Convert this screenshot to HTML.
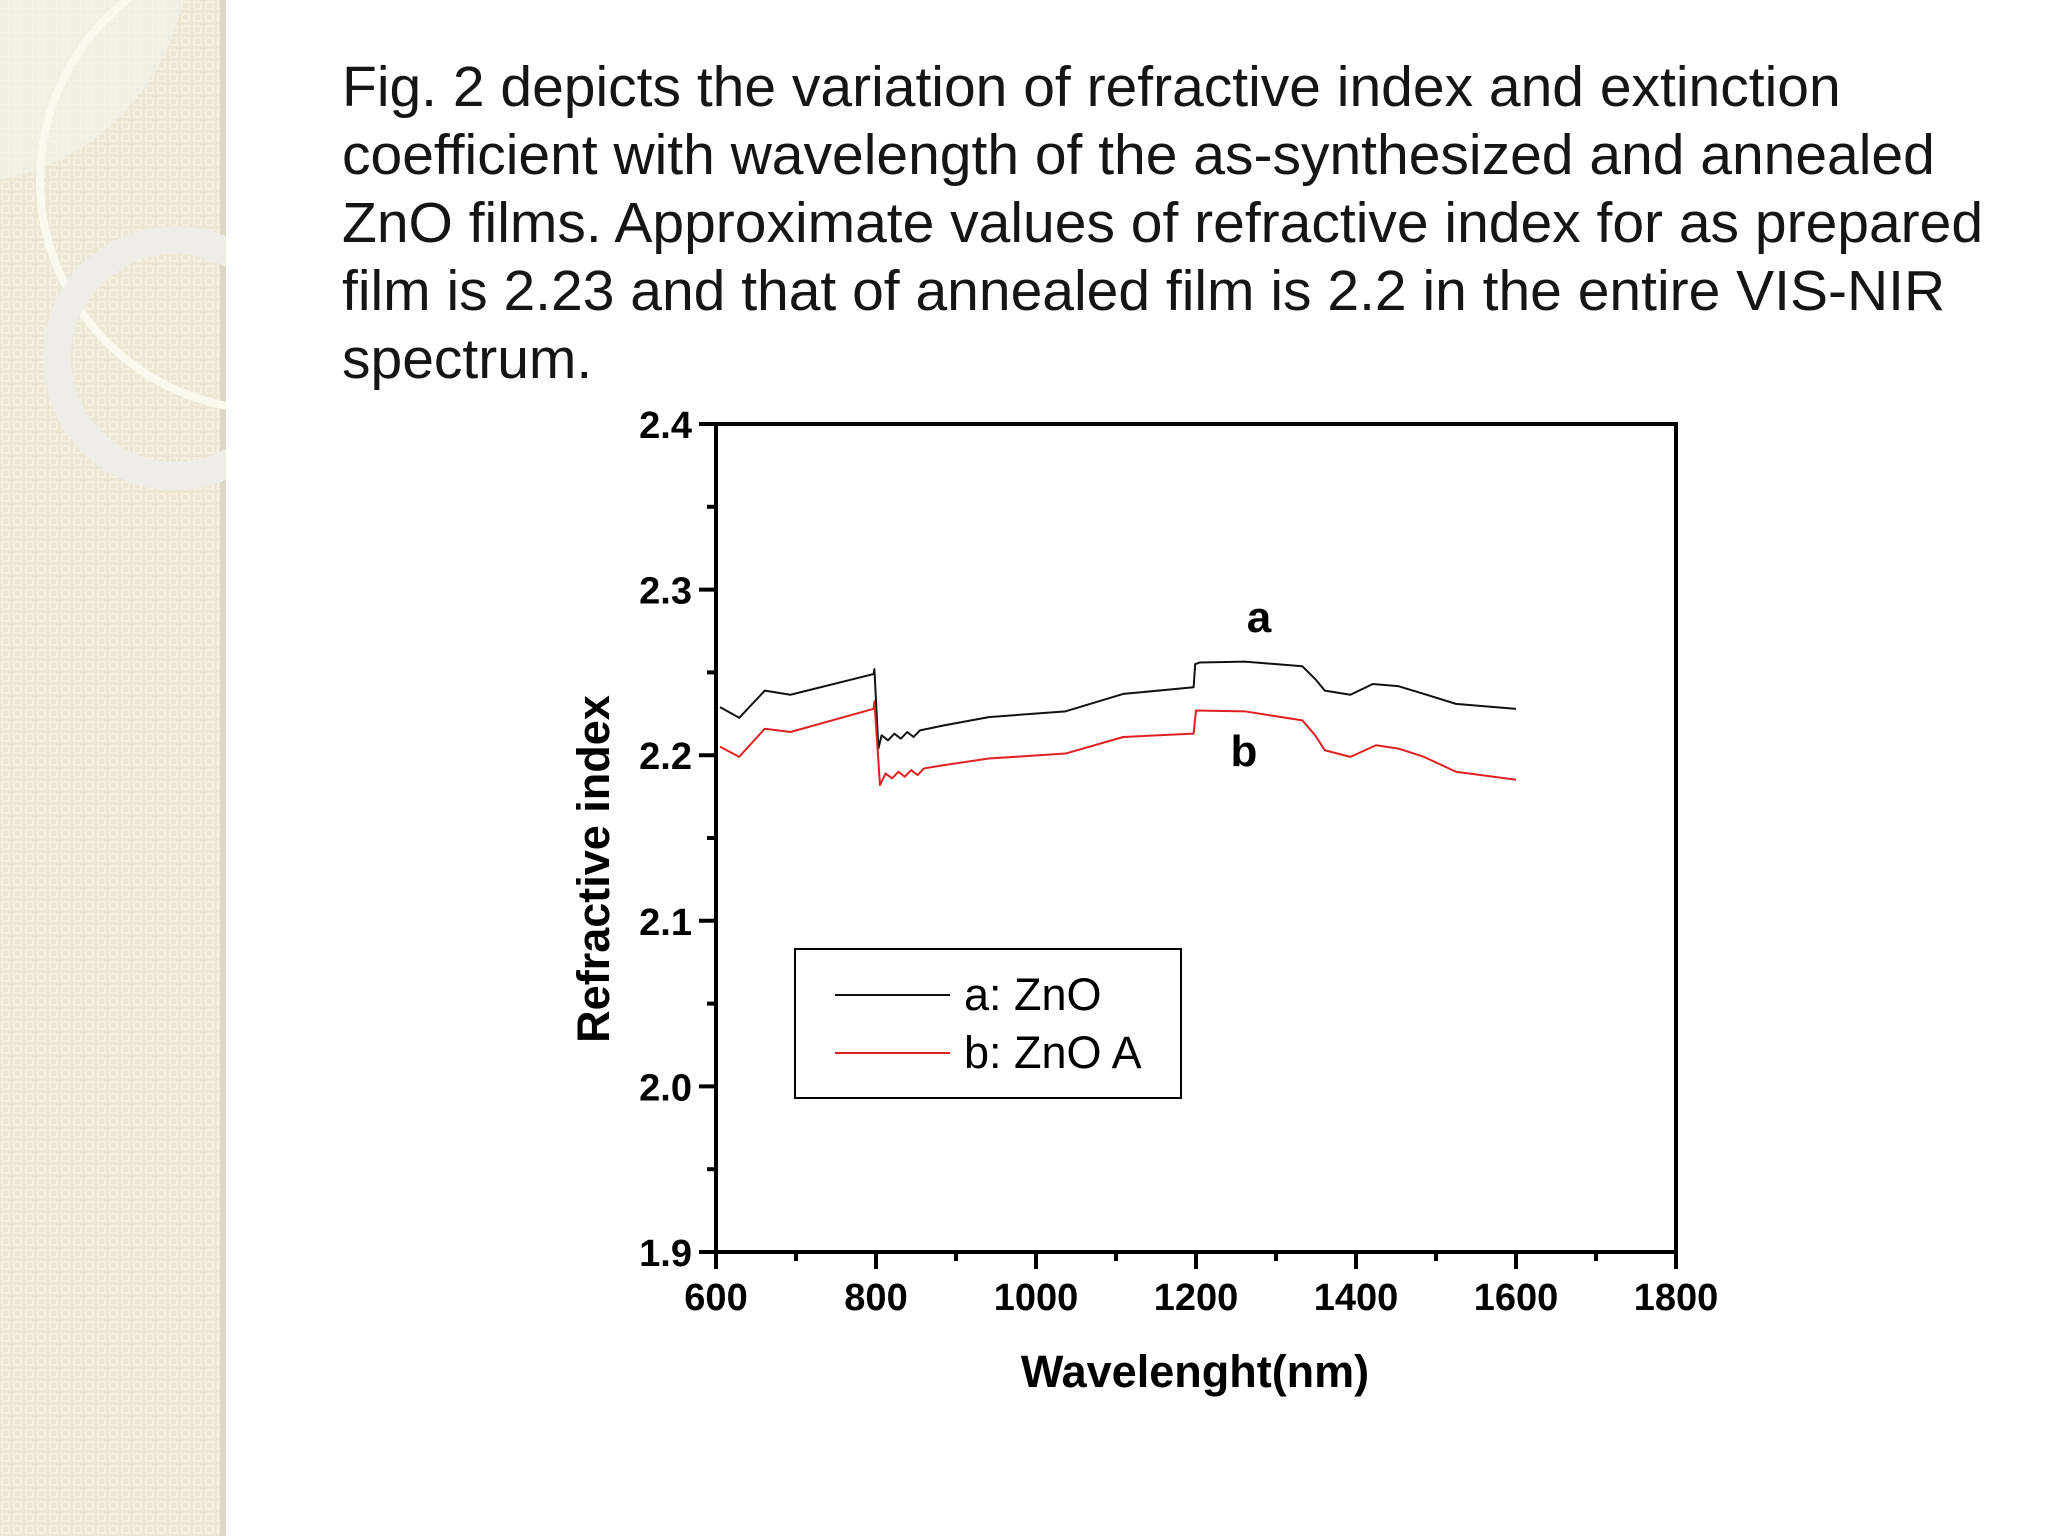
<!DOCTYPE html>
<html><head><meta charset="utf-8"><style>
html,body{margin:0;padding:0;width:2048px;height:1536px;overflow:hidden;background:#fff;font-family:"Liberation Sans",Arial,sans-serif}
#side{position:absolute;left:0;top:0;width:226px;height:1536px}
#txt{position:absolute;left:342px;top:53px;font-size:57px;line-height:68px;color:#151515;white-space:nowrap}
#chart{position:absolute;left:0;top:0}
</style></head><body>
<svg id="side" width="226" height="1536">
<defs><pattern id="pt" width="12" height="12" patternUnits="userSpaceOnUse"><rect width="12" height="12" fill="#ece6d3"/><rect x="2" y="2" width="7" height="7" fill="none" stroke="#f6f2e6" stroke-width="1.5"/></pattern></defs>
<rect width="226" height="1536" fill="url(#pt)"/>
<rect x="220" width="6" height="1536" fill="#dcd6c4"/>
<path d="M0 0 H183 A230 230 0 0 1 0 180 Z" fill="#f4f2e8" opacity="0.7"/>
<circle cx="270" cy="180" r="230" fill="none" stroke="#faf8ef" stroke-width="8"/>
<circle cx="175" cy="358" r="118" fill="none" stroke="#eeede8" stroke-width="28"/>
</svg>
<div id="txt">Fig. 2 depicts the variation of refractive index and extinction<br>coefficient with wavelength of the as-synthesized and annealed<br>ZnO films. Approximate values of refractive index for as prepared<br>film is 2.23 and that of annealed film is 2.2 in the entire VIS-NIR<br>spectrum.</div>
<svg id="chart" width="2048" height="1536"></svg>
<script>
const xTicks=[600,800,1000,1200,1400,1600,1800];
const yTicks=[1.9,2.0,2.1,2.2,2.3,2.4];
const yTickLabels=["1.9","2.0","2.1","2.2","2.3","2.4"];
const wlA=[605,629,661,693,797,798,803,807,815,823,831,839,847,855,885,941,1037,1109,1197,1199,1205,1261,1333,1349,1361,1393,1421,1453,1485,1525,1600];
const nA=[2.229,2.2226,2.239,2.2365,2.249,2.252,2.204,2.212,2.209,2.213,2.210,2.214,2.211,2.215,2.218,2.223,2.2265,2.237,2.241,2.255,2.256,2.2565,2.2537,2.246,2.239,2.2365,2.243,2.2417,2.237,2.231,2.228];
const wlB=[605,629,661,693,797,798,805,812,820,828,836,844,852,860,885,941,1037,1109,1197,1200,1261,1333,1349,1361,1393,1425,1453,1485,1525,1600];
const nB=[2.2052,2.199,2.216,2.214,2.228,2.2325,2.182,2.189,2.186,2.190,2.187,2.191,2.188,2.192,2.194,2.198,2.201,2.211,2.213,2.227,2.2265,2.221,2.212,2.203,2.199,2.206,2.204,2.199,2.190,2.1852];
const L=716,R=1676,T=424,B=1252;
const X=v=>L+(v-600)/1200*(R-L);
const Y=v=>B-(v-1.9)/0.5*(B-T);
const svg=document.getElementById('chart');
const NS='http://www.w3.org/2000/svg';
function mk(t,a){const e=document.createElementNS(NS,t);for(const k in a)e.setAttribute(k,a[k]);svg.appendChild(e);return e;}
let f=mk('rect',{x:L,y:T,width:R-L,height:B-T,fill:'none',stroke:'#000','stroke-width':4});


xTicks.forEach((v,i)=>{
 let t=mk('line',{x1:X(v),x2:X(v),y1:B,y2:B+17,stroke:'#000','stroke-width':4});
 
 
 if(i<xTicks.length-1){let m=mk('line',{x1:X(v+100),x2:X(v+100),y1:B,y2:B+9,stroke:'#000','stroke-width':4});
 
 }
 let l=mk('text',{x:X(v),y:1310,'font-size':38,'font-weight':'bold','text-anchor':'middle'});
 l.textContent=v;
 
 
});
yTicks.forEach((v,i)=>{
 let t=mk('line',{x1:L-17,x2:L,y1:Y(v),y2:Y(v),stroke:'#000','stroke-width':4});
 
 
 if(i<yTicks.length-1){let m=mk('line',{x1:L-9,x2:L,y1:Y(v+0.05),y2:Y(v+0.05),stroke:'#000','stroke-width':4});
 
 }
 let l=mk('text',{x:692,y:Y(v)+14,'font-size':38,'font-weight':'bold','text-anchor':'end'});
 l.textContent=yTickLabels[i];
 
 
});
function line(wl,n,c,name){
 const p=mk('polyline',{points:wl.map((w,i)=>X(w)+','+Y(n[i])).join(' '),fill:'none',stroke:c,'stroke-width':2,'stroke-linejoin':'round'});
 
 
}
line(wlA,nA,'#111','series-a-zno');
line(wlB,nB,'#e02020','series-b-zno-a');
let la=mk('text',{x:1259,y:632,'font-size':44,'font-weight':'bold','text-anchor':'middle'});la.textContent='a';


let lb=mk('text',{x:1244,y:766,'font-size':44,'font-weight':'bold','text-anchor':'middle'});lb.textContent='b';


let xt=mk('text',{x:1195,y:1387,'font-size':45,'font-weight':'bold','text-anchor':'middle'});xt.textContent='Wavelenght(nm)';


let yt=mk('text',{x:0,y:0,'font-size':45,'font-weight':'bold','text-anchor':'middle',transform:'translate(609,869) rotate(-90)'});yt.textContent='Refractive index';


let lg=mk('rect',{x:795,y:949,width:386,height:149,fill:'#fff',stroke:'#000','stroke-width':2});


[['#111','a: ZnO',995],['#e02020','b: ZnO A',1053]].forEach(([c,t,y])=>{
 let s=mk('line',{x1:835,x2:950,y1:y,y2:y,stroke:c,'stroke-width':2});
 
 
 let tx=mk('text',{x:964,y:y+15,'font-size':45});tx.textContent=t;
 
 
});
</script>
</body></html>
